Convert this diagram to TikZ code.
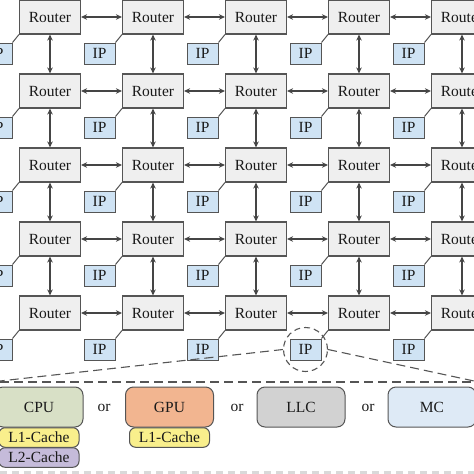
\documentclass[tikz,border=0pt]{standalone}
\usepackage{fontspec}
\setmainfont{Liberation Serif}
\usetikzlibrary{arrows.meta}
\definecolor{edgec}{HTML}{555555}
\definecolor{arrowc}{HTML}{454545}
\definecolor{rfill}{HTML}{EFEFEF}
\definecolor{ipfill}{HTML}{CFE3F4}
\definecolor{cpufill}{HTML}{D8E0C6}
\definecolor{gpufill}{HTML}{F2B590}
\definecolor{llcfill}{HTML}{D2D2D2}
\definecolor{mcfill}{HTML}{DEEAF6}
\definecolor{lonefill}{HTML}{F9EF8C}
\definecolor{ltwofill}{HTML}{C5BBDA}
\definecolor{textc}{HTML}{1A1A1A}
\begin{document}
\begin{tikzpicture}[x=1pt,y=-1pt,
  font=\fontsize{15.5}{18}\selectfont, text=textc,
  router/.style={draw=edgec, fill=rfill, line width=1.1pt, minimum width=61pt, minimum height=34pt, inner sep=0pt},
  ipbox/.style={draw=edgec, fill=ipfill, line width=1pt, minimum width=31pt, minimum height=21pt, inner sep=0pt},
  link/.style={draw=arrowc, line width=1.1pt, {Stealth[length=6pt,width=5.5pt]}-{Stealth[length=6pt,width=5.5pt]}},
  iplink/.style={draw=edgec, line width=1pt},
  unit/.style={draw=edgec, line width=1pt, rounded corners=8pt, minimum width=88pt, minimum height=40pt, inner sep=0pt},
  cachebox/.style={draw=edgec, line width=1pt, rounded corners=6pt, minimum width=80pt, minimum height=19.5pt, inner sep=0pt},
  dashln/.style={draw=edgec, line width=1.1pt, dash pattern=on 9pt off 5pt},
  ortext/.style={inner sep=0pt}
]
\useasboundingbox (0,0) rectangle (474,474);
\clip (0,0) rectangle (474,474);
% routers and IPs
\foreach \i in {0,...,4}{
  \foreach \j in {0,...,4}{
    \node[router] (r\i\j) at ({50+103*\i},{17+74*\j}) {Router};
    \node[ipbox] (ip\i\j) at ({50+103*\i-53.5},{17+74*\j+36.5}) {IP};
    \draw[iplink] (ip\i\j.north east) -- (r\i\j.south west);
  }
}
% horizontal links
\foreach \i [evaluate=\i as \k using int(\i+1)] in {0,...,3}{
  \foreach \j in {0,...,4}{
    \draw[link] (r\i\j.east) -- (r\k\j.west);
  }
}
% vertical links
\foreach \i in {0,...,4}{
  \foreach \j [evaluate=\j as \k using int(\j+1)] in {0,...,3}{
    \draw[link] (r\i\j.south) -- (r\i\k.north);
  }
}
% zoom circle and dashed lines
\node[circle, draw=edgec, line width=1.1pt, dash pattern=on 6pt off 4pt, minimum size=44pt, inner sep=0pt] (zoomc) at (ip34) {};
\coordinate (lend) at (0,381);
\coordinate (rend) at (474,381);
\coordinate (hl) at (0,382);
\coordinate (hr) at (474,382);
\draw[dashln] (zoomc.west) -- (lend);
\draw[dashln] (zoomc.east) -- (rend);
\draw[dashln] (hl) -- (hr);
% IP types
\node[unit, fill=cpufill] (cpu) at (39,407) {CPU};
\node[cachebox, fill=lonefill] (l1a) at (39,437.5) {L1-Cache};
\node[cachebox, fill=ltwofill] (l2a) at (39,457.5) {L2-Cache};
\node[ortext] (or1) at (104,408) {or};
\node[unit, fill=gpufill] (gpu) at (169.5,407) {GPU};
\node[cachebox, fill=lonefill] (l1b) at (169.5,437.5) {L1-Cache};
\node[ortext] (or2) at (237,408) {or};
\node[unit, fill=llcfill] (llc) at (301,407) {LLC};
\node[ortext] (or3) at (368,408) {or};
\node[unit, fill=mcfill] (mc) at (432,407) {MC};
% bottom light dashed border
\coordinate (bl) at (0,472.5);
\coordinate (br) at (474,472.5);
\draw[draw=black!15, line width=2.5pt, dash pattern=on 7pt off 5pt] (bl) -- (br);
\end{tikzpicture}
\end{document}
